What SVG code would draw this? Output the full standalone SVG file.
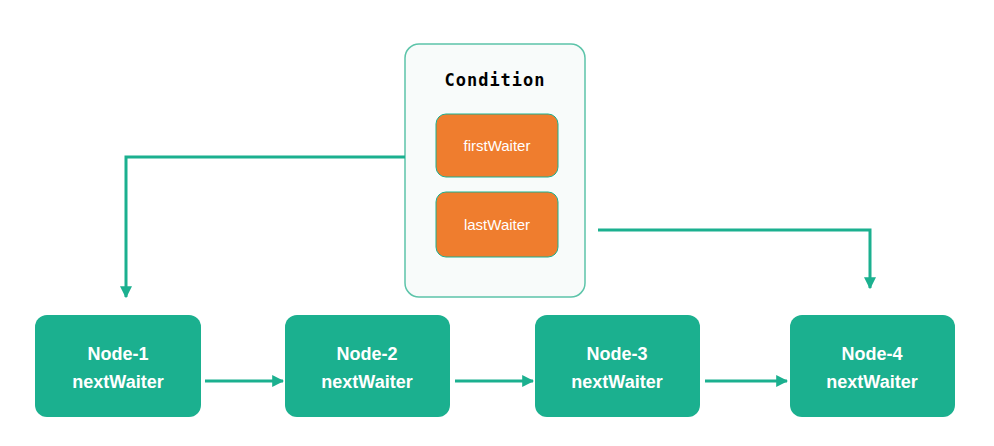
<svg xmlns="http://www.w3.org/2000/svg" width="994" height="446" viewBox="0 0 994 446">
<style>
.node{fill:#1bb08f}
.nt{fill:#fff;font-family:"Liberation Sans",Arial,sans-serif;font-weight:bold;font-size:18px;text-anchor:middle}
.ob{fill:#ef7d2e;stroke:#1bb08f;stroke-width:1}
.ot{fill:#fff;font-family:"Liberation Sans",Arial,sans-serif;font-size:15px;text-anchor:middle}
.c{stroke:#1bb08f;stroke-width:3;fill:none}
</style>
<defs><marker id="a" viewBox="0 0 10 10" refX="9" refY="5" markerWidth="4" markerHeight="4" orient="auto"><path d="M0,0L10,5L0,10z" fill="#1bb08f"/></marker></defs>
<rect width="994" height="446" fill="#fff"/>
<g id="condition">
<rect x="405" y="44" width="180" height="253" rx="14" fill="#f8fbfa" stroke="#5cc4a9" stroke-width="1.5"/>
<text x="495" y="86" font-family="'DejaVu Sans Mono',monospace" font-weight="bold" font-size="17" text-anchor="middle" letter-spacing="1">Condition</text>
</g>
<g id="firstWaiter"><rect class="ob" x="436" y="114" width="122" height="63" rx="10"/><text class="ot" x="497" y="151">firstWaiter</text></g>
<g id="lastWaiter"><rect class="ob" x="436" y="192" width="122" height="65" rx="10"/><text class="ot" x="497" y="230">lastWaiter</text></g>
<g id="node1"><rect class="node" x="35" y="315" width="166" height="102" rx="12"/><text class="nt" x="118" y="360">Node-1</text><text class="nt" x="118" y="388">nextWaiter</text></g>
<g id="node2"><rect class="node" x="285" y="315" width="165" height="102" rx="12"/><text class="nt" x="367" y="360">Node-2</text><text class="nt" x="367" y="388">nextWaiter</text></g>
<g id="node3"><rect class="node" x="535" y="315" width="165" height="102" rx="12"/><text class="nt" x="617" y="360">Node-3</text><text class="nt" x="617" y="388">nextWaiter</text></g>
<g id="node4"><rect class="node" x="790" y="315" width="165" height="102" rx="12"/><text class="nt" x="872" y="360">Node-4</text><text class="nt" x="872" y="388">nextWaiter</text></g>
<g id="connectors">
<path class="c" d="M405,157H126V297" marker-end="url(#a)"/>
<path class="c" d="M598,230H870V288" marker-end="url(#a)"/>
<path class="c" d="M205,381H283" marker-end="url(#a)"/>
<path class="c" d="M455,381H533" marker-end="url(#a)"/>
<path class="c" d="M705,381H787" marker-end="url(#a)"/>
</g>
</svg>
